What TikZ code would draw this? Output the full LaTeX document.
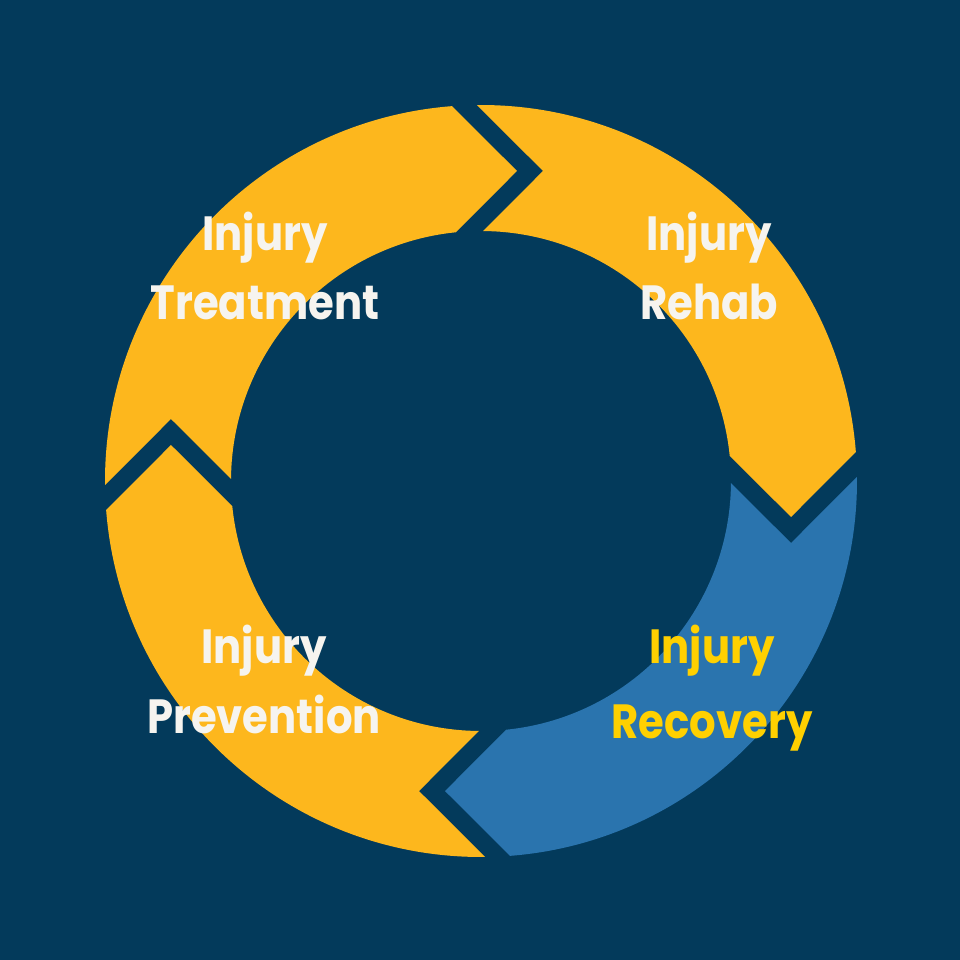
\documentclass[tikz,border=0pt]{standalone}
\usepackage{fontspec}
\newfontfamily\pop{Poppins}[FakeStretch=0.87]
\definecolor{bgnavy}{HTML}{033A5B}
\definecolor{segyellow}{HTML}{FDB71D}
\definecolor{segblue}{HTML}{2A74AE}
\definecolor{txtwhite}{HTML}{F6F4EF}
\definecolor{txtyellow}{HTML}{FFD000}
\tikzset{
  lbl/.style={font=\pop\bfseries\fontsize{48}{48}\selectfont, anchor=base, inner sep=0pt},
  seg/.pic={
    \fill[#1] (89.54:250) -- (62,310) -- (90.61:376)
      arc[start angle=90.61, end angle=4.41, radius=376]
      -- (310,-36) -- (5.80:250)
      arc[start angle=5.80, end angle=89.54, radius=250] -- cycle;
  }
}
\begin{document}
\begin{tikzpicture}[x=1pt,y=1pt]
\fill[bgnavy] (-481,-479) rectangle (479,481);
\useasboundingbox (-481,-479) rectangle (479,481);
\pic[rotate=0] (rehab) {seg=segyellow};
\pic[rotate=-90] (recovery) {seg=segblue};
\pic[rotate=-180] (prevention) {seg=segyellow};
\pic[rotate=90] (treatment) {seg=segyellow};
\node[lbl, text=txtwhite] (t1) at (-216,230) {Injury};
\node[lbl, text=txtwhite] (t2) at (-216,161) {Treatment};
\node[lbl, text=txtwhite] (r1) at (228,230) {Injury};
\node[lbl, text=txtwhite] (r2) at (228,161) {Rehab};
\node[lbl, text=txtwhite] (p1) at (-217,-182) {Injury};
\node[lbl, text=txtwhite] (p2) at (-217,-252) {Prevention};
\node[lbl, text=txtyellow] (c1) at (231,-182) {Injury};
\node[lbl, text=txtyellow] (c2) at (231,-257) {Recovery};
\end{tikzpicture}
\end{document}
